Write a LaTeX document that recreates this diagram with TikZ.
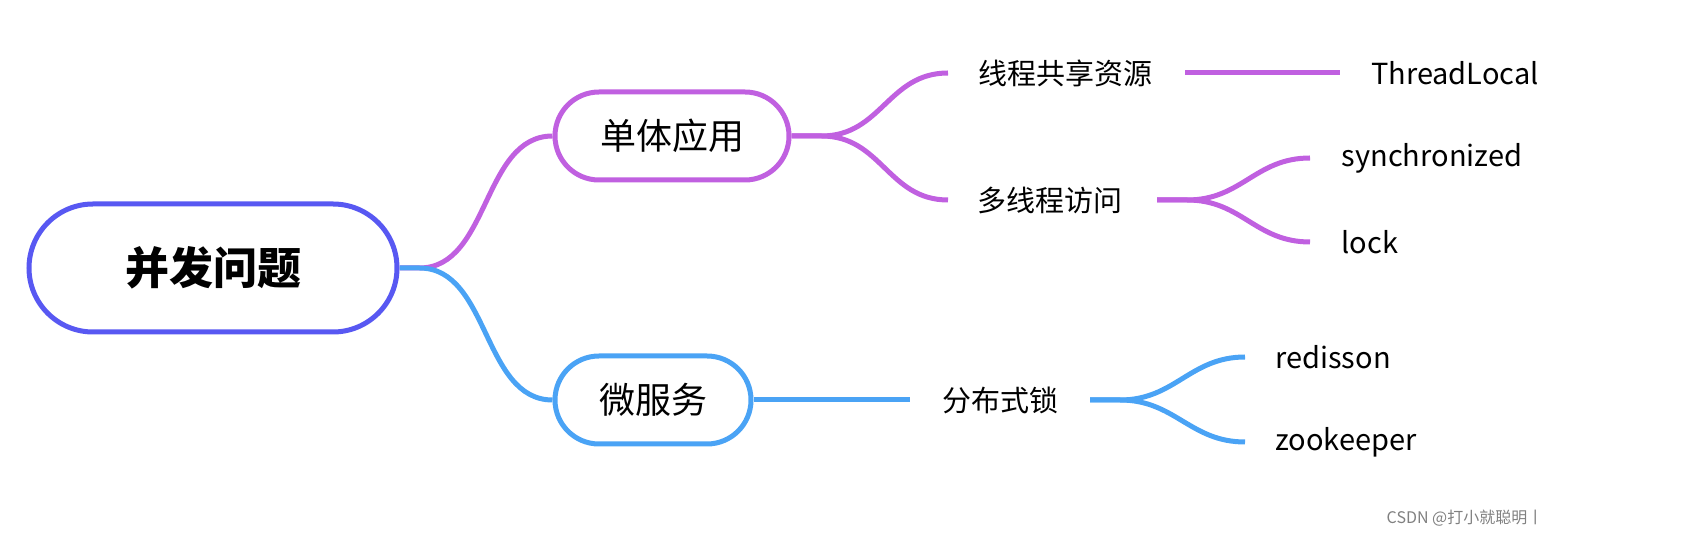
\documentclass[tikz,border=0pt]{standalone}
\usepackage{fontspec}
\setmainfont{Noto Sans CJK SC}
\definecolor{purp}{HTML}{C060E0}
\definecolor{blu}{HTML}{4AA3F5}
\definecolor{root}{HTML}{5858F2}
\tikzset{
 box/.style={draw,line width=2.5pt,rounded corners=22pt,inner sep=0pt,anchor=center},
 lbl/.style={inner sep=0pt,font=\fontsize{14.5pt}{17pt}\selectfont},
 pl/.style={draw=purp,line width=2.5pt},
 bl/.style={draw=blu,line width=2.5pt}
}
\begin{document}
\begin{tikzpicture}[x=0.5pt,y=-0.5pt]
\useasboundingbox (0,0) rectangle (1693,549);
\node[box,draw=root,minimum width=184pt,minimum height=64pt,rounded corners=32pt,font=\fontsize{22pt}{26pt}\selectfont\bfseries] (r) at (213,268) {并发问题};
\node[box,draw=purp,minimum width=117pt,minimum height=44pt,font=\fontsize{18pt}{21pt}\selectfont] (a) at (672,136) {单体应用};
\node[box,draw=blu,minimum width=98pt,minimum height=44pt,font=\fontsize{18pt}{21pt}\selectfont] (b) at (653,400) {微服务};
\node[lbl] (a1) at (1065,73) {线程共享资源};
\node[lbl] (a2) at (1050,200) {多线程访问};
\node[lbl] (t) at (1455,73) {ThreadLocal};
\node[lbl] (s) at (1432,158) {synchronized};
\node[lbl] (l) at (1370,242) {lock};
\node[lbl] (b1) at (1000,400) {分布式锁};
\node[lbl] (rd) at (1333,357) {redisson};
\node[lbl] (z) at (1346,442) {zookeeper};
\node[inner sep=0pt,text=gray,font=\fontsize{8pt}{10pt}\selectfont] (c) at (1465,518) {CSDN @打小就聪明丨};
\coordinate (a1w) at (948,73); \coordinate (a2w) at (948,200);
\coordinate (a1e) at (1185,73); \coordinate (tw) at (1340,73);
\coordinate (a2e) at (1157,200); \coordinate (sw) at (1310,158); \coordinate (lw) at (1310,242);
\coordinate (b1w) at (910,400); \coordinate (b1e) at (1090,400);
\coordinate (rdw) at (1245,357); \coordinate (zw) at (1245,442);
\path[pl] (r.east) -- ++(20,0) .. controls +(70,0) and +(-70,0) .. (a.west);
\path[bl] (r.east) -- ++(20,0) .. controls +(70,0) and +(-70,0) .. (b.west);
\path[pl] (a.east) -- ++(30,0) .. controls +(60,0) and +(-60,0) .. (a1w);
\path[pl] (a.east) -- ++(30,0) .. controls +(60,0) and +(-60,0) .. (a2w);
\path[pl] (a1e) -- (tw);
\path[pl] (a2e) -- ++(30,0) .. controls +(55,0) and +(-55,0) .. (sw);
\path[pl] (a2e) -- ++(30,0) .. controls +(55,0) and +(-55,0) .. (lw);
\path[bl] (b.east) -- (b1w);
\path[bl] (b1e) -- ++(30,0) .. controls +(55,0) and +(-55,0) .. (rdw);
\path[bl] (b1e) -- ++(30,0) .. controls +(55,0) and +(-55,0) .. (zw);
\end{tikzpicture}
\end{document}
